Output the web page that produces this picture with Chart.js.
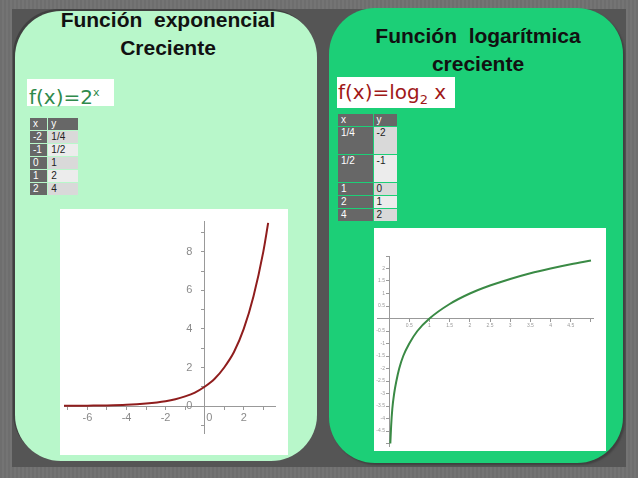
<!DOCTYPE html>
<html>
<head>
<meta charset="utf-8">
<script src="https://cdn.jsdelivr.net/npm/chart.js@4.4.0/dist/chart.umd.min.js"></script>
<style>
  body { margin: 0; width: 638px; height: 478px; overflow: hidden; font-family: "Liberation Sans", Arial, sans-serif;
    background: repeating-linear-gradient(90deg, #6e6e6e 0px, #6e6e6e 2px, #747474 2px, #747474 4px); position: relative; }
  .frame { position: absolute; left: 12px; top: 9px; width: 614px; height: 458px; background: #555; }
  .panel { position: absolute; border-radius: 46px; }
  #pl { left: 15px; top: 11px; width: 302px; height: 450px; background: #b8f7ca; box-shadow: -2px -2px 0 #404040; }
  #pr { left: 329px; top: 8px; width: 294px; height: 455px; background: #1ccf77; box-shadow: 2px 2px 2px #404040; }
  .title { position: absolute; font-weight: bold; font-size: 21px; color: #111; text-align: center; line-height: 28px; }
  .fbox { position: absolute; background: #fff; font-family: "DejaVu Sans", sans-serif; font-size: 20px; }
  table { position: absolute; border-collapse: separate; border-spacing: 1px; font-size: 10px; font-family: "Liberation Sans", Arial, sans-serif; table-layout: fixed; }
  td, th { padding: 0 3px; vertical-align: top; line-height: 12px; overflow: hidden; }
  td.k { background: #676767; color: #fff; }
  td.v { background: #d9d9d9; color: #222; }
  tr:nth-child(odd) td.v { background: #ececec; }
  th { background: #676767; color: #fff; font-weight: normal; text-align: left; }
  .cbox { position: absolute; background: #fff; }
  canvas { position: absolute; }
</style>
</head>
<body>
<div class="frame"></div>
<div class="panel" id="pl"></div>
<div class="panel" id="pr"></div>
<div class="title" style="left:20px;top:6px;width:296px;">Función&nbsp; exponencial<br>Creciente</div>
<div class="title" style="left:330px;top:22px;width:296px;">Función&nbsp; logarítmica<br>creciente</div>
<div class="fbox" style="left:27px;top:79px;width:85px;height:27px;color:#2f8a4c;line-height:27px;padding-left:2px;">f(x)=2<sup style="font-size:11px;">x</sup></div>
<div class="fbox" style="left:337px;top:77px;width:117px;height:31px;color:#a01818;line-height:31px;padding-left:1px;">f(x)=log<sub style="font-size:13px;">2</sub> x</div>
<table id="tl" style="left:29px;top:117px;width:50px;"><colgroup><col style="width:17px"><col style="width:29px"></colgroup></table>
<table id="tr" style="left:337px;top:113px;width:61px;"><colgroup><col style="width:34px"><col style="width:23px"></colgroup></table>
<div class="cbox" style="left:60px;top:209px;width:228px;height:246px;"></div>
<div class="cbox" style="left:374px;top:228px;width:232px;height:223px;"></div>
<canvas id="c1" width="228" height="246" style="left:60px;top:209px;"></canvas>
<canvas id="c2" width="232" height="223" style="left:374px;top:228px;"></canvas>
<script>
// table data
const expTableX = ['-2', '-1', '0', '1', '2'];
const expTableY = ['1/4', '1/2', '1', '2', '4'];
const logTableX = ['1/4', '1/2', '1', '2', '4'];
const logTableY = ['-2', '-1', '0', '1', '2'];

// curve points
const expX = [-7.2, -6, -5, -4, -3, -2, -1.5, -1, -0.5, 0, 0.5, 1, 1.5, 2, 2.5, 3, 3.25];
const expY = [0.01, 0.02, 0.03, 0.06, 0.13, 0.25, 0.35, 0.5, 0.7, 1, 1.4, 2, 2.8, 4, 5.7, 8, 9.5];
const logX = [0.03, 0.05, 0.08, 0.125, 0.18, 0.25, 0.35, 0.5, 0.7, 1, 1.5, 2, 2.5, 3, 3.5, 4, 4.5, 5];
const logY = [-5, -4.3, -3.6, -3, -2.5, -2, -1.5, -1, -0.5, 0, 0.58, 1, 1.32, 1.58, 1.81, 2, 2.17, 2.32];

// axis tick labels
const expXTicks = [-6, -4, -2, 0, 2];
const expYTicks = [0, 2, 4, 6, 8];
const logXTicks = [0.5, 1, 1.5, 2, 2.5, 3, 3.5, 4, 4.5];
const logYTicks = [2, 1.5, 1, 0.5, -0.5, -1, -1.5, -2, -2.5, -3, -3.5, -4, -4.5];

function fillTable(id, xs, ys, heights) {
  let html = '<tr style="height:' + heights[0] + 'px"><th>x</th><th>y</th></tr>';
  xs.forEach((x, i) => {
    html += '<tr style="height:' + heights[i + 1] + 'px"><td class="k">' + x + '</td><td class="v">' + ys[i] + '</td></tr>';
  });
  document.getElementById(id).insertAdjacentHTML('beforeend', html);
}
fillTable('tl', expTableX, expTableY, [12, 12, 12, 12, 12, 12]);
fillTable('tr', logTableX, logTableY, [10, 27, 27, 12, 12, 12]);

function pts(xs, ys) {
  return xs.map((x, i) => ({ x: x, y: ys[i] }));
}

// tick marks every `step`, label only the values listed
// (pre/post spaces nudge labels off the axis line, like the original plot)
function axis(min, max, pos, step, labels, size, color, pad, fmt) {
  return {
    type: 'linear', min: min, max: max, position: pos,
    afterBuildTicks: s => {
      const t = [];
      for (let v = Math.ceil(min / step) * step; v <= max; v += step) t.push({ value: Math.round(v * 100) / 100 });
      s.ticks = t;
    },
    ticks: {
      autoSkip: false, maxRotation: 0, color: color, padding: pad,
      font: { size: size, family: 'Liberation Sans' },
      callback: v => labels.includes(v) ? fmt(v) : ''
    },
    grid: { drawOnChartArea: false, tickLength: 3, color: '#999' },
    border: { color: '#999', width: 1 }
  };
}

new Chart(document.getElementById('c1'), {
  type: 'scatter',
  data: { datasets: [{ data: pts(expX, expY), showLine: true, borderColor: '#8f1d1d', borderWidth: 2,
    pointRadius: 0, cubicInterpolationMode: 'monotone' }] },
  options: {
    responsive: false, animation: false,
    layout: { padding: { left: 4, right: 13, top: 12, bottom: 22 } },
    plugins: { legend: { display: false }, tooltip: { enabled: false } },
    scales: {
      x: axis(-7.2, 3.6, { y: 0 }, 1, expXTicks, 11, '#8a8a8a', 2, v => v === 0 ? '   0' : String(v)),
      y: axis(-1.4, 9.6, { x: 0 }, 1, expYTicks, 11, '#8a8a8a', 2, v => v + '    ')
    }
  }
});

new Chart(document.getElementById('c2'), {
  type: 'scatter',
  data: { datasets: [{ data: pts(logX, logY), showLine: true, borderColor: '#3a8a45', borderWidth: 2,
    pointRadius: 0, cubicInterpolationMode: 'monotone' }] },
  options: {
    responsive: false, animation: false,
    layout: { padding: { left: 3, right: 13, top: 28, bottom: 5 } },
    plugins: { legend: { display: false }, tooltip: { enabled: false } },
    scales: {
      x: axis(-0.3, 5.05, { y: 0 }, 0.5, logXTicks, 5, '#999', 1, v => String(v)),
      y: axis(-5.1, 2.5, { x: 0 }, 0.5, logYTicks, 5, '#999', 1, v => v + '   ')
    }
  }
});
</script>
</body>
</html>
